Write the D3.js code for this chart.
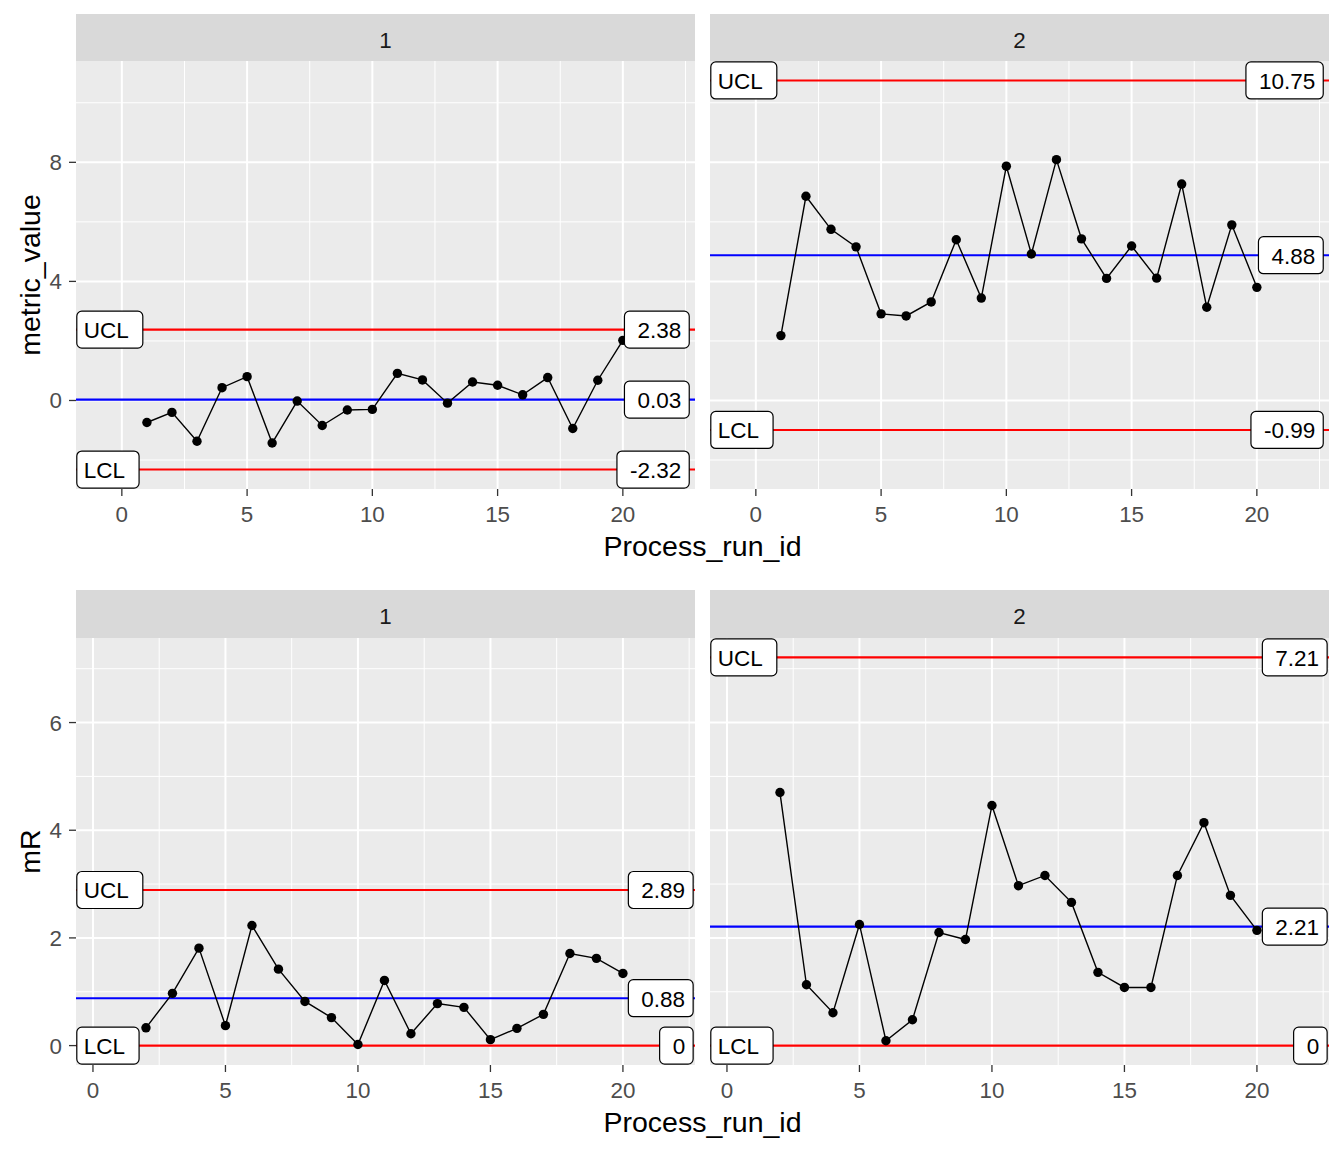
<!DOCTYPE html>
<html>
<head>
<meta charset="utf-8">
<script src="https://cdn.jsdelivr.net/npm/d3@7"></script>
<style>
  body { margin: 0; background: #fff; }
  svg text { font-family: "Liberation Sans", Arial, sans-serif; }
</style>
</head>
<body>
<div id="d3"></div>
<script>
// facets
const groups = ["1", "2"];

// individual values chart
const run_id = [1, 2, 3, 4, 5, 6, 7, 8, 9, 10, 11, 12, 13, 14, 15, 16, 17, 18, 19, 20];
const value_g1 = [-0.74, -0.40, -1.37, 0.43, 0.80, -1.43, -0.02, -0.84, -0.32, -0.30,
                  0.91, 0.69, -0.09, 0.62, 0.51, 0.19, 0.77, -0.94, 0.68, 2.02];
const value_g2 = [2.18, 6.86, 5.75, 5.16, 2.91, 2.84, 3.31, 5.40, 3.44, 7.87,
                  4.92, 8.09, 5.43, 4.10, 5.19, 4.11, 7.27, 3.13, 5.90, 3.80];
const ucl_value = [2.38, 10.75];
const cl_value = [0.03, 4.88];
const lcl_value = [-2.32, -0.99];
const value_ticks = [0, 4, 8];

// moving range chart
const mr_run_id = [2, 3, 4, 5, 6, 7, 8, 9, 10, 11, 12, 13, 14, 15, 16, 17, 18, 19, 20];
const mr_g1 = [0.33, 0.97, 1.81, 0.37, 2.23, 1.42, 0.82, 0.52, 0.02, 1.21,
               0.22, 0.78, 0.71, 0.11, 0.32, 0.58, 1.71, 1.62, 1.34];
const mr_g2 = [4.70, 1.13, 0.61, 2.25, 0.09, 0.48, 2.10, 1.97, 4.46, 2.97,
               3.16, 2.66, 1.36, 1.08, 1.08, 3.16, 4.14, 2.79, 2.14];
const ucl_mr = [2.89, 7.21];
const cl_mr = [0.88, 2.21];
const lcl_mr = [0, 0];
const mr_ticks = [0, 2, 4, 6];

const x_ticks = [0, 5, 10, 15, 20];
const x_minor = [2.5, 7.5, 12.5, 17.5, 22.5];

const width = 1344, height = 1152;
const panel_x = [[76, 695], [710, 1329]];

const svg = d3.select("#d3").append("svg")
    .attr("width", width)
    .attr("height", height);

function expand(lo, hi) {
    const pad = (hi - lo) * 0.05;
    return [lo - pad, hi + pad];
}

function drawRow(cfg) {
    const y = d3.scaleLinear().domain(cfg.ydomain).range([cfg.panel_bottom, cfg.panel_top]);
    const y_minor = [];
    for (let i = 0; i < cfg.yticks.length + 1; i++) {
        const step = cfg.yticks[1] - cfg.yticks[0];
        y_minor.push(cfg.yticks[0] - step / 2 + i * step);
    }

    groups.forEach((gname, gi) => {
        const [left, right] = panel_x[gi];
        const x = d3.scaleLinear().domain(cfg.xdomain).range([left, right]);
        const g = svg.append("g");

        // strip
        g.append("rect")
            .attr("x", left).attr("y", cfg.strip_top)
            .attr("width", right - left).attr("height", cfg.panel_top - cfg.strip_top)
            .attr("fill", "#D9D9D9");
        g.append("text")
            .attr("x", (left + right) / 2)
            .attr("y", (cfg.strip_top + cfg.panel_top) / 2 + 10)
            .attr("text-anchor", "middle")
            .attr("font-size", 22.4)
            .attr("fill", "#1A1A1A")
            .text(gname);

        // panel
        const clipId = "clip-" + cfg.name + gi;
        svg.append("clipPath").attr("id", clipId)
            .append("rect")
            .attr("x", left).attr("y", cfg.panel_top)
            .attr("width", right - left).attr("height", cfg.panel_bottom - cfg.panel_top);
        g.append("rect")
            .attr("x", left).attr("y", cfg.panel_top)
            .attr("width", right - left).attr("height", cfg.panel_bottom - cfg.panel_top)
            .attr("fill", "#EBEBEB");

        const pg = g.append("g").attr("clip-path", "url(#" + clipId + ")");

        // grid
        pg.selectAll(".yminor").data(y_minor.filter(v => y(v) > cfg.panel_top && y(v) < cfg.panel_bottom))
            .enter().append("line")
            .attr("x1", left).attr("x2", right)
            .attr("y1", d => y(d)).attr("y2", d => y(d))
            .attr("stroke", "#fff").attr("stroke-width", 1);
        pg.selectAll(".xminor").data(x_minor)
            .enter().append("line")
            .attr("y1", cfg.panel_top).attr("y2", cfg.panel_bottom)
            .attr("x1", d => x(d)).attr("x2", d => x(d))
            .attr("stroke", "#fff").attr("stroke-width", 1);
        pg.selectAll(".ymajor").data(cfg.yticks)
            .enter().append("line")
            .attr("x1", left).attr("x2", right)
            .attr("y1", d => y(d)).attr("y2", d => y(d))
            .attr("stroke", "#fff").attr("stroke-width", 2);
        pg.selectAll(".xmajor").data(x_ticks)
            .enter().append("line")
            .attr("y1", cfg.panel_top).attr("y2", cfg.panel_bottom)
            .attr("x1", d => x(d)).attr("x2", d => x(d))
            .attr("stroke", "#fff").attr("stroke-width", 2);

        // control lines
        const limits = [
            { v: cfg.ucl[gi], color: "#FF0000", name: "UCL" },
            { v: cfg.cl[gi], color: "#0000FF", name: null },
            { v: cfg.lcl[gi], color: "#FF0000", name: "LCL" }
        ];
        limits.forEach(l => {
            pg.append("line")
                .attr("x1", left).attr("x2", right)
                .attr("y1", y(l.v)).attr("y2", y(l.v))
                .attr("stroke", l.color).attr("stroke-width", 2.1);
        });

        // data
        const vals = cfg.values[gi];
        const pts = cfg.ids.map((id, i) => [id, vals[i]]);
        pg.append("path")
            .datum(pts)
            .attr("d", d3.line().x(d => x(d[0])).y(d => y(d[1])))
            .attr("fill", "none")
            .attr("stroke", "#000")
            .attr("stroke-width", 1.4);
        pg.selectAll(".pt").data(pts)
            .enter().append("circle")
            .attr("cx", d => x(d[0])).attr("cy", d => y(d[1]))
            .attr("r", 4.7)
            .attr("fill", "#000");

        // labels
        function label(textStr, cy, side) {
            const lg = pg.append("g");
            const box = lg.append("rect");
            const t = lg.append("text")
                .attr("y", cy + 8.4)
                .attr("font-size", 22.5)
                .attr("fill", "#000")
                .text(textStr);
            const tw = t.node().getComputedTextLength();
            let bx, bw;
            if (side === "left") {
                bx = left + 0.8;
                t.attr("x", bx + 7).attr("text-anchor", "start");
                bw = tw + 21;
            } else {
                const r = x(22.65);
                t.attr("x", r - 8).attr("text-anchor", "end");
                bx = r - 8 - tw - 13;
                bw = tw + 21;
            }
            box.attr("x", bx).attr("y", cy - 18.5)
                .attr("width", bw).attr("height", 37)
                .attr("rx", 5).attr("ry", 5)
                .attr("fill", "#fff")
                .attr("stroke", "#000")
                .attr("stroke-width", 1.2);
        }
        limits.forEach(l => {
            if (l.name) label(l.name, y(l.v), "left");
            label(String(l.v), y(l.v), "right");
        });

        // x axis
        const xa = g.append("g");
        xa.selectAll("line").data(x_ticks).enter().append("line")
            .attr("x1", d => x(d)).attr("x2", d => x(d))
            .attr("y1", cfg.panel_bottom).attr("y2", cfg.panel_bottom + 7)
            .attr("stroke", "#333").attr("stroke-width", 1.3);
        xa.selectAll("text").data(x_ticks).enter().append("text")
            .attr("x", d => x(d))
            .attr("y", cfg.panel_bottom + 33)
            .attr("text-anchor", "middle")
            .attr("font-size", 22.4)
            .attr("fill", "#4D4D4D")
            .text(d => d);

        // y axis only on first panel
        if (gi === 0) {
            const ya = g.append("g");
            ya.selectAll("line").data(cfg.yticks).enter().append("line")
                .attr("x1", left - 7).attr("x2", left)
                .attr("y1", d => y(d)).attr("y2", d => y(d))
                .attr("stroke", "#333").attr("stroke-width", 1.3);
            ya.selectAll("text").data(cfg.yticks).enter().append("text")
                .attr("x", left - 14)
                .attr("y", d => y(d) + 8)
                .attr("text-anchor", "end")
                .attr("font-size", 22.4)
                .attr("fill", "#4D4D4D")
                .text(d => d);
        }
    });

    // axis titles
    svg.append("text")
        .attr("x", (panel_x[0][0] + panel_x[1][1]) / 2)
        .attr("y", cfg.panel_bottom + 67)
        .attr("text-anchor", "middle")
        .attr("font-size", 28.5)
        .attr("fill", "#000")
        .text("Process_run_id");
    const cy = (cfg.panel_top + cfg.panel_bottom) / 2;
    svg.append("text")
        .attr("transform", "translate(40," + cy + ") rotate(-90)")
        .attr("text-anchor", "middle")
        .attr("font-size", 28.5)
        .attr("fill", "#000")
        .text(cfg.ytitle);
}

drawRow({
    name: "value",
    strip_top: 14, panel_top: 61, panel_bottom: 489,
    xdomain: [-1.83, 22.88],
    ydomain: expand(d3.min(lcl_value), d3.max(ucl_value)),
    yticks: value_ticks,
    ids: run_id,
    values: [value_g1, value_g2],
    ucl: ucl_value, cl: cl_value, lcl: lcl_value,
    ytitle: "metric_value"
});

drawRow({
    name: "mr",
    strip_top: 590, panel_top: 638, panel_bottom: 1065,
    xdomain: [-0.64, 22.72],
    ydomain: expand(d3.min(lcl_mr), d3.max(ucl_mr)),
    yticks: mr_ticks,
    ids: mr_run_id,
    values: [mr_g1, mr_g2],
    ucl: ucl_mr, cl: cl_mr, lcl: lcl_mr,
    ytitle: "mR"
});
</script>
</body>
</html>
